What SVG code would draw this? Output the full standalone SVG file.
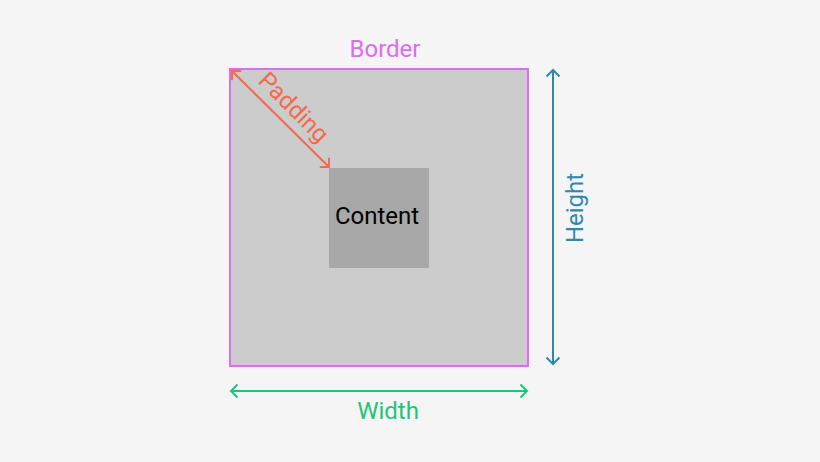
<svg xmlns="http://www.w3.org/2000/svg" width="820" height="462" viewBox="0 0 820 462">
<defs>
<marker id="ap" viewBox="-10 -10 20 20" refX="0" refY="0" markerWidth="20" markerHeight="20" markerUnits="userSpaceOnUse" orient="auto-start-reverse"><path d="M-6.5,-6.5 L0,0 L-6.5,6.5" fill="none" stroke="#f26a50" stroke-width="2"/></marker>
<marker id="ah" viewBox="-10 -10 20 20" refX="0" refY="0" markerWidth="20" markerHeight="20" markerUnits="userSpaceOnUse" orient="auto-start-reverse"><path d="M-6.5,-6.5 L0,0 L-6.5,6.5" fill="none" stroke="#2d8aab" stroke-width="2"/></marker>
<marker id="aw" viewBox="-10 -10 20 20" refX="0" refY="0" markerWidth="20" markerHeight="20" markerUnits="userSpaceOnUse" orient="auto-start-reverse"><path d="M-6.5,-6.5 L0,0 L-6.5,6.5" fill="none" stroke="#1ec47b" stroke-width="2"/></marker>
</defs>
<style>
text{font-family:Roboto,"Liberation Sans",sans-serif;font-size:24px;text-anchor:middle}
</style>
<rect width="820" height="462" fill="#f5f5f5"/>
<g id="border">
<rect x="230" y="69" width="298" height="297" fill="#cccccc" stroke="#dc6cf0" stroke-width="2"/>
<text x="385" y="57" fill="#dc6cf0">Border</text>
</g>
<g id="content">
<rect x="329" y="168" width="100" height="100" fill="#a8a8a8"/>
<text x="377" y="224" fill="#000">Content</text>
</g>
<g id="connectors">
<line x1="232" y1="71" x2="329" y2="167" stroke="#f26a50" stroke-width="2" marker-start="url(#ap)" marker-end="url(#ap)"/>
<line x1="553" y1="70" x2="553" y2="364" stroke="#2d8aab" stroke-width="2" marker-start="url(#ah)" marker-end="url(#ah)"/>
<line x1="231" y1="391" x2="527" y2="391" stroke="#1ec47b" stroke-width="2" marker-start="url(#aw)" marker-end="url(#aw)"/>
</g>
<g id="labels">
<text transform="translate(288,113) rotate(45)" fill="#f26a50">Padding</text>
<text transform="translate(583,208) rotate(-90)" fill="#2d8aab">Height</text>
<text x="388" y="419" fill="#1ec47b">Width</text>
</g>
</svg>
